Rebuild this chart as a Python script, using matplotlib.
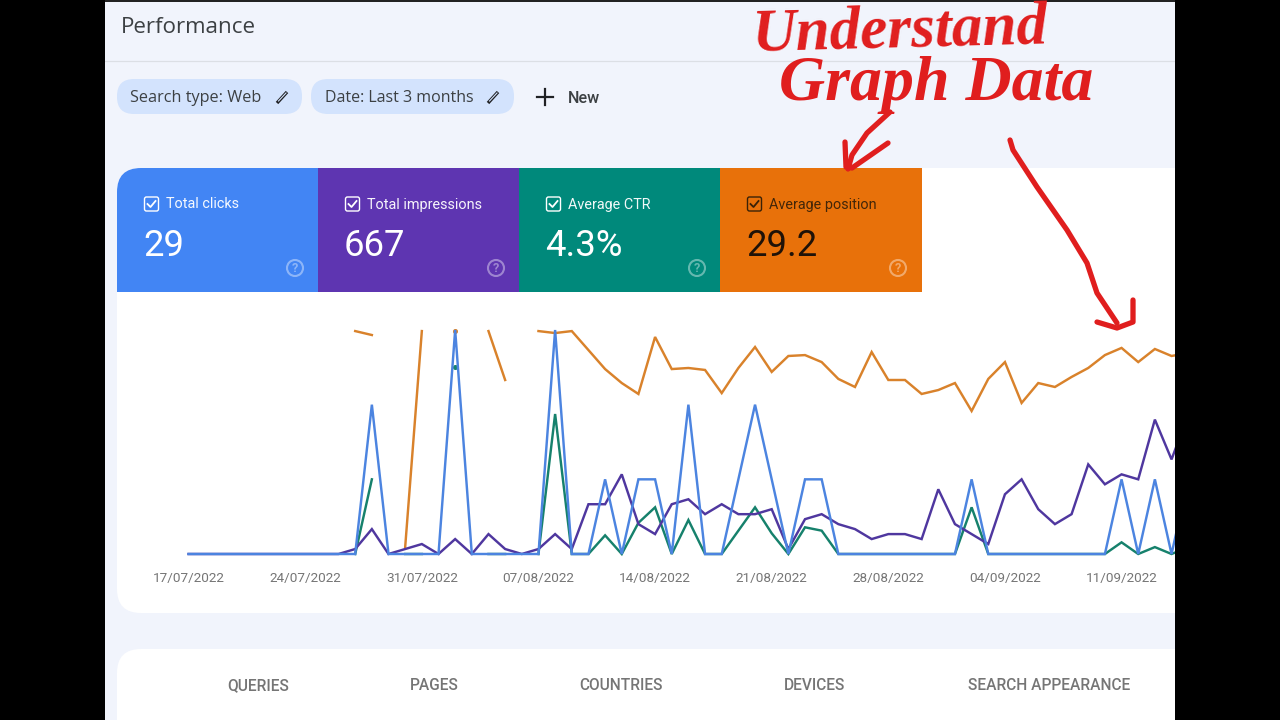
import matplotlib
matplotlib.use("Agg")
import matplotlib.pyplot as plt
import numpy as np
import pandas as pd
from matplotlib.patches import Circle, FancyBboxPatch, PathPatch, Rectangle
from matplotlib.path import Path

nan = float("nan")

plt.rcParams["font.family"] = ["Roboto", "DejaVu Sans"]

# daily search console figures, 17/07/2022 onwards
days = pd.date_range("2022-07-17", periods=61)
tick_labels = ["17/07/2022", "24/07/2022", "31/07/2022", "07/08/2022", "14/08/2022",
               "21/08/2022", "28/08/2022", "04/09/2022", "11/09/2022"]

clicks = [0, 0, 0, 0, 0, 0, 0, 0, 0, 0, 0, 2, 0, 0, 0, 0, 3, 0, 0, 0,
          0, 0, 3, 0, 0, 1, 0, 1, 1, 0, 2, 0, 0, 1, 2, 1, 0, 1, 1, 0,
          0, 0, 0, 0, 0, 0, 0, 1, 0, 0, 0, 0, 0, 0, 0, 0, 1, 0, 1, 0, 1]

impressions = [0, 0, 0, 0, 0, 0, 0, 0, 0, 0, 1, 5, 0, 1, 2, 0, 3, 0, 4, 1,
               0, 1, 4, 1, 10, 10, 16, 6, 4, 10, 11, 8, 10, 8, 8, 9, 1, 7, 8, 6,
               5, 3, 4, 4, 3, 13, 6, 4, 2, 12, 15, 9, 6, 8, 18, 14, 16, 15, 27, 19, 28]

ctr = [nan, nan, nan, nan, nan, nan, nan, nan, nan, nan, 0, 40, nan, 0, 0, nan, 100, nan, 0, 0,
       nan, 0, 75, 0, 0, 10, 0, 16.7, 25, 0, 18.2, 0, 0, 12.5, 25, 11.1, 0, 14.3, 12.5, 0,
       0, 0, 0, 0, 0, 0, 0, 25, 0, 0, 0, 0, 0, 0, 0, 0, 6.25, 0, 3.7, 0, 3.6]

position = [nan, nan, nan, nan, nan, nan, nan, nan, nan, nan, 1.6, 3.8, nan, 122.1, 1.6, nan, 1.6, nan, 1.6, 28.9,
            nan, 1.6, 2.7, 1.6, 12.2, 22.8, 30.6, 36.7, 4.9, 22.8, 22.2, 23.3, 36.2, 22.2, 10.5, 24.4, 15.5, 15, 18.9, 28.3,
            32.8, 13.3, 28.9, 28.9, 36.7, 34.5, 30.6, 46.2, 28.3, 18.9, 41.7, 30.6, 32.8, 27.2, 22.2, 15, 11, 18.9, 11.6, 15.5, 13.8]

card_labels = ["Total clicks", "Total impressions", "Average CTR", "Average position"]
card_values = ["29", "667", "4.3%", "29.2"]
tab_labels = ["QUERIES", "PAGES", "COUNTRIES", "DEVICES", "SEARCH APPEARANCE"]

PAGE = "#f1f4fc"
INK = "#3c4043"
GREY = "#757575"
RED = "#e01e1e"

fig = plt.figure(figsize=(12.8, 7.2), dpi=100, facecolor="black")

# page furniture is laid out in pixels
ui = fig.add_axes([0, 0, 1, 1])
ui.set_xlim(0, 1280)
ui.set_ylim(720, 0)
ui.axis("off")


def box(x0, y0, x1, y1, color, tl=0, tr=0, br=0, bl=0, z=1):
    verts = [(x0 + tl, y0), (x1 - tr, y0), (x1, y0), (x1, y0 + tr), (x1, y1 - br), (x1, y1), (x1 - br, y1),
             (x0 + bl, y1), (x0, y1), (x0, y1 - bl), (x0, y0 + tl), (x0, y0), (x0 + tl, y0), (x0 + tl, y0)]
    codes = [Path.MOVETO, Path.LINETO, Path.CURVE3, Path.CURVE3, Path.LINETO, Path.CURVE3, Path.CURVE3,
             Path.LINETO, Path.CURVE3, Path.CURVE3, Path.LINETO, Path.CURVE3, Path.CURVE3, Path.CLOSEPOLY]
    ui.add_patch(PathPatch(Path(verts, codes), facecolor=color, edgecolor="none", zorder=z))


def pencil(x, y):
    ui.plot([x - 5, x + 5], [y + 6, y - 5], color="#202124", lw=2.4, solid_capstyle="butt", zorder=3)
    ui.plot([x - 3.5, x + 4], [y + 4, y - 4], color="#d3e3fd", lw=0.8, zorder=4)


def checkbox(x, y, color):
    ui.add_patch(FancyBboxPatch((x + 1, y + 1), 14, 14, boxstyle="round,pad=0,rounding_size=2",
                                facecolor="none", edgecolor=color, lw=1.0, zorder=3))
    ui.plot([x + 4, x + 7, x + 12], [y + 8, y + 11, y + 5], color=color, lw=1.3, zorder=3)


def help_icon(x, y):
    ui.add_patch(Circle((x, y), 8, facecolor="none", edgecolor="white", lw=1.5, alpha=0.4, zorder=3))
    ui.text(x, y + 0.3, "?", color="white", alpha=0.4, fontsize=9, fontweight="bold",
            ha="center", va="center", zorder=3)


ui.add_patch(Rectangle((105, 0), 1070, 720, facecolor=PAGE, edgecolor="none", zorder=0))
ui.plot([105, 1175], [60.5, 60.5], color="#dcdfe5", lw=0.9, zorder=1)
ui.text(121, 33, "Performance", color=INK, fontsize=16.1, family="Open Sans", ha="left", va="baseline", zorder=3)

# filter chips
box(117, 79, 302, 114, "#d3e3fd", 17, 17, 17, 17, z=2)
box(311, 79, 514, 114, "#d3e3fd", 17, 17, 17, 17, z=2)
ui.text(130, 102, "Search type: Web", color=INK, fontsize=11.7, family="Open Sans", va="baseline", zorder=3)
ui.text(325, 102, "Date: Last 3 months", color=INK, fontsize=11.5, family="Open Sans", va="baseline", zorder=3)
pencil(282, 97)
pencil(493, 97)
ui.plot([537, 553], [97, 97], color="#202124", lw=1.6, zorder=3)
ui.plot([545, 545], [89, 105], color="#202124", lw=1.6, zorder=3)
ui.text(568, 103, "New", color=INK, fontsize=11.7, fontweight="medium", va="baseline", zorder=3)

# white panels
box(117, 168, 1175, 613, "white", tl=24, bl=24, z=1)
box(117, 649, 1175, 725, "white", tl=24, z=1)

# metric cards
card_colors = ["#4285f4", "#5e35b1", "#00897b", "#e8710a"]
card_text = ["white", "white", "white", "#3a2208"]
card_edges = [117, 318, 519, 720, 922]
for i in range(4):
    x0 = card_edges[i]
    box(x0, 168, card_edges[i + 1], 292, card_colors[i], tl=24 if i == 0 else 0, z=2)
    checkbox(x0 + 26.5, 196, card_text[i])
    ui.text(x0 + 49, 208.5, card_labels[i], color=card_text[i], fontsize=10.4,
            va="baseline", alpha=0.95, zorder=3)
    ui.text(x0 + 26, 256, card_values[i], color="#1f1208" if i == 3 else "white", fontsize=26.3,
            va="baseline", zorder=3)
    help_icon(x0 + 178, 268)

tab_centers = [258, 434, 621, 815, 1049]
for label, xc in zip(tab_labels, tab_centers):
    ui.text(xc, 690, label, color=GREY, fontsize=11.2, fontweight="medium", ha="center", va="baseline", zorder=3)

# pen scribbles over the page
ui.text(899, 50, "Understand", color=RED, fontsize=44, family="Liberation Serif", style="italic",
        fontweight="bold", ha="center", va="baseline", rotation=1.5, zorder=6)
ui.text(936, 100, "Graph Data", color=RED, fontsize=46, family="Liberation Serif", style="italic",
        fontweight="bold", ha="center", va="baseline", zorder=6)
pen = dict(color=RED, lw=3.8, solid_capstyle="round", solid_joinstyle="round", zorder=6)
ui.plot([890, 867, 852, 848], [112, 133, 155, 169], **pen)
ui.plot([845, 846, 852, 888], [142, 167, 168, 143], **pen)
ui.plot([1010, 1013, 1037, 1067, 1087, 1097, 1117], [140, 150, 187, 230, 263, 293, 323], **pen)
ui.plot([1097, 1117, 1133, 1133], [322, 328, 322, 300], **pen)

# letterbox bars
ui.add_patch(Rectangle((0, 0), 105, 720, facecolor="black", edgecolor="none", zorder=5))
ui.add_patch(Rectangle((1175, 0), 105, 720, facecolor="black", edgecolor="none", zorder=5))
ui.add_patch(Rectangle((105, 0), 1070, 1.5, facecolor="#222222", edgecolor="none", zorder=5))

# the chart: every metric has its own y scale over a shared time axis
LEFT, RIGHT, TOP, BOTTOM = 170, 1175, 325, 560
PX_DAY = 16.66
FIRST_DAY_PX = 188.6
BASE_PX = 554
PEAK_PX = 330
rect = [LEFT / 1280, 1 - BOTTOM / 720, (RIGHT - LEFT) / 1280, (BOTTOM - TOP) / 720]


def metric_axes(low, high):
    ax = fig.add_axes(rect, facecolor="none")
    per_px = (high - low) / (BASE_PX - PEAK_PX)
    ax.set_ylim(low - (BOTTOM - BASE_PX) * per_px, high + (PEAK_PX - TOP) * per_px)
    ax.set_xlim(days[0] - pd.Timedelta(days=(FIRST_DAY_PX - LEFT) / PX_DAY),
                days[0] + pd.Timedelta(days=(RIGHT - FIRST_DAY_PX) / PX_DAY))
    ax.axis("off")
    return ax


def draw(ax, values, color):
    values = np.array(values, dtype=float)
    ax.plot(days, values, color=color, lw=1.75, solid_joinstyle="miter")
    # a day with no neighbours only shows up as a dot
    ok = np.isfinite(values)
    lone = ok & ~np.r_[False, ok[:-1]] & ~np.r_[ok[1:], False]
    ax.plot(days[lone], values[lone], "o", color=color, ms=2.6)


# average position runs top-down, best rank at the top
draw(metric_axes(126, 1), position, "#d9822b")
draw(metric_axes(0, 120), ctr, "#16816c")
draw(metric_axes(0, 45), impressions, "#4f379f")
clicks_ax = metric_axes(0, 3)
draw(clicks_ax, clicks, "#4c84e0")

clicks_ax.axis("on")
for spine in clicks_ax.spines.values():
    spine.set_visible(False)
clicks_ax.set_yticks([])
clicks_ax.set_xticks(days[::7][:len(tick_labels)])
clicks_ax.set_xticklabels(tick_labels, color=GREY, fontsize=9.7, clip_on=False)
clicks_ax.tick_params(axis="x", length=0, pad=8.5)

fig.savefig("out.png", dpi=100, facecolor="black")
